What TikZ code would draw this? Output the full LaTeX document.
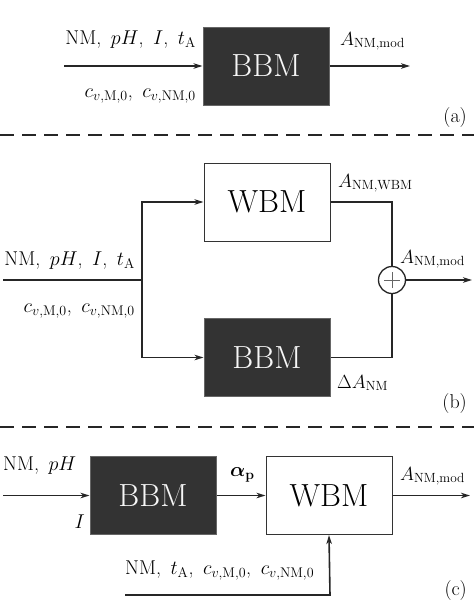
\RequirePackage{fix-cm}
\documentclass[tikz,border=0pt]{standalone}
\usepackage{amsmath,bm}
\usetikzlibrary{arrows.meta}
\newcommand{\gapsp}{\hspace{0.48em}}
\begin{document}
\begin{tikzpicture}[x=1pt,y=-1pt,
  wire/.style={line width=1.6pt,black!85},
  arr/.style={wire,-{Stealth[length=9pt,width=5.5pt,inset=2.5pt]}},
  bbm/.style={draw=black!60,line width=1pt,fill=black!80,text=black!3,minimum width=126pt,minimum height=78pt,inner sep=0pt,font=\fontsize{32}{32}\selectfont},
  wbm/.style={draw=black!80,line width=1pt,fill=white,text=black,minimum width=126pt,minimum height=78pt,inner sep=0pt,font=\fontsize{32}{32}\selectfont},
  lbl/.style={inner sep=0pt,font=\fontsize{20}{23}\selectfont},
  albl/.style={inner sep=0pt,font=\fontsize{19}{22}\selectfont},
  sep/.style={line width=1.5pt,black!85,dash pattern=on 14pt off 8pt}]
\useasboundingbox (0,0) rectangle (474,606);
% ---------- (a)
\node[bbm] (bA) at (266,66) {BBM};
\coordinate (inA) at (64,66);
\coordinate (outA) at (410,66);
\draw[arr] (inA) -- (bA.west);
\draw[arr] (bA.east) -- (outA);
\node[lbl,anchor=base east] (la1) at (196,44) {NM,\gapsp$pH$,\gapsp$I$,\gapsp$t_{\mathrm{A}}$};
\node[lbl,anchor=base east] (la2) at (196,97) {$c_{v,\mathrm{M},0}$,\gapsp$c_{v,\mathrm{NM},0}$};
\node[albl,anchor=base west] (la3) at (340,45) {$A_{\mathrm{NM,mod}}$};
\node[lbl,anchor=base east] (la4) at (467,122) {(a)};
\coordinate (d1l) at (0,135); \coordinate (d1r) at (474,135);
\draw[sep] (d1l) -- (d1r);
% ---------- (b)
\node[wbm] (wB) at (267,202) {WBM};
\node[bbm] (bB) at (267,357.5) {BBM};
\node[draw=black!85,line width=1.3pt,circle,minimum size=27pt,inner sep=0pt] (sum) at (392,280) {};
\draw[black!60,line width=0.7pt] ([xshift=-8pt]sum.center) -- ([xshift=8pt]sum.center)
  ([yshift=-8pt]sum.center) -- ([yshift=8pt]sum.center);
\coordinate (inB) at (3,280);
\coordinate (br) at (142,280);
\coordinate (outB) at (472,280);
\draw[wire] (inB) -- (br);
\draw[arr] (br) |- (wB.west);
\draw[arr] (br) |- (bB.west);
\draw[wire] (wB.east) -| (sum.north);
\draw[wire] (bB.east) -| (sum.south);
\draw[arr] (sum.east) -- (outB);
\node[albl,anchor=base west] (lb1) at (338,187) {$A_{\mathrm{NM,WBM}}$};
\node[lbl,anchor=base east] (lb2) at (135,265) {NM,\gapsp$pH$,\gapsp$I$,\gapsp$t_{\mathrm{A}}$};
\node[lbl,anchor=base east] (lb3) at (135,312) {$c_{v,\mathrm{M},0}$,\gapsp$c_{v,\mathrm{NM},0}$};
\node[albl,anchor=base west] (lb4) at (400,263) {$A_{\mathrm{NM,mod}}$};
\node[albl,anchor=base west] (lb5) at (337,388) {$\Delta A_{\mathrm{NM}}$};
\node[lbl,anchor=base east] (lb6) at (467,408) {(b)};
\coordinate (d2l) at (0,427); \coordinate (d2r) at (474,427);
\draw[sep] (d2l) -- (d2r);
% ---------- (c)
\node[bbm] (bC) at (153,495.5) {BBM};
\node[wbm] (wC) at (329,495.5) {WBM};
\coordinate (inC) at (3,495.5);
\coordinate (outC) at (470,495.5);
\coordinate (botL) at (125,595);
\coordinate (botR) at (330,595);
\draw[arr] (inC) -- (bC.west);
\draw[arr] (bC.east) -- (wC.west);
\draw[arr] (wC.east) -- (outC);
\draw[arr] (botL) -- (botR) -- (wC.south);
\node[lbl,anchor=base west] (lc1) at (3,470) {NM,\gapsp$pH$};
\node[lbl,anchor=base east] (lc2) at (85,528) {$I$};
\node[lbl,anchor=base west] (lc3) at (230,476) {$\bm{\alpha}_{\mathbf{p}}$};
\node[albl,anchor=base west] (lc4) at (400,480) {$A_{\mathrm{NM,mod}}$};
\node[lbl,anchor=base west] (lc5) at (125,574) {NM,\gapsp$t_{\mathrm{A}}$,\gapsp$c_{v,\mathrm{M},0}$,\gapsp$c_{v,\mathrm{NM},0}$};
\node[lbl,anchor=base east] (lc6) at (467,595) {(c)};
\end{tikzpicture}
\end{document}
